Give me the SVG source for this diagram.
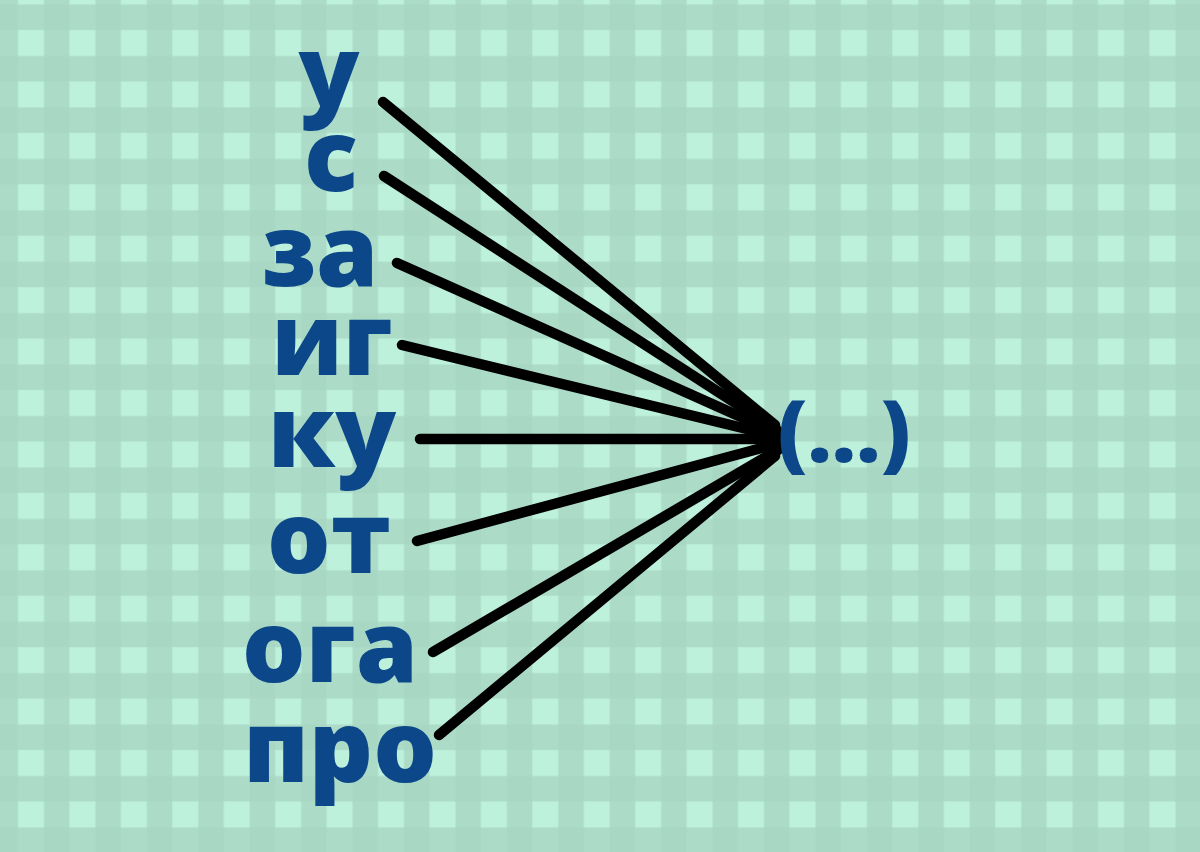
<svg xmlns="http://www.w3.org/2000/svg" width="1200" height="852" viewBox="0 0 1200 852">
<defs>
<pattern id="ging" x="0" y="20" width="51.43" height="51.43" patternUnits="userSpaceOnUse">
<rect x="0" y="0" width="51.43" height="51.43" fill="#a8d8c4"/>
<rect x="18" y="0" width="26" height="51.43" fill="#acdcc8"/>
<rect x="0" y="10" width="51.43" height="26" fill="#acdcc8"/>
<rect x="18" y="10" width="26" height="26" fill="#bdf1dc"/>
</pattern>
</defs>
<style>
.w{font-family:"Open Sans","Noto Sans","DejaVu Sans",sans-serif;font-weight:800;fill:#0c478a;text-anchor:middle}
.l{stroke:#000;stroke-width:10.5;stroke-linecap:round;fill:none}
</style>
<rect x="0" y="0" width="1200" height="852" fill="url(#ging)"/>
<g id="connectors">
<line class="l" x1="383" y1="102" x2="775" y2="425"/>
<line class="l" x1="384" y1="176" x2="777" y2="430"/>
<line class="l" x1="397" y1="263" x2="779" y2="434"/>
<line class="l" x1="402" y1="345" x2="780" y2="437"/>
<line class="l" x1="420" y1="439" x2="781" y2="439"/>
<line class="l" x1="417" y1="541" x2="780" y2="443"/>
<line class="l" x1="433" y1="652" x2="778" y2="450"/>
<line class="l" x1="439" y1="735" x2="775" y2="456"/>
</g>
<g id="n1"><text class="w" x="329" y="107" font-size="100">у</text></g>
<g id="n2"><text class="w" x="331" y="191" font-size="100">с</text></g>
<g id="n3"><text class="w" x="320" y="286" font-size="100">за</text></g>
<g id="n4"><text class="w" x="332" y="375" font-size="100">иг</text></g>
<g id="n5"><text class="w" x="332" y="467" font-size="100">ку</text></g>
<g id="n6"><text class="w" x="329" y="573" font-size="100">от</text></g>
<g id="n7"><text class="w" x="330" y="682" font-size="100">ога</text></g>
<g id="n8"><text class="w" x="340" y="782" font-size="100">про</text></g>
<g id="target"><text class="w" x="844" y="462" font-size="84">(...)</text></g>
</svg>
